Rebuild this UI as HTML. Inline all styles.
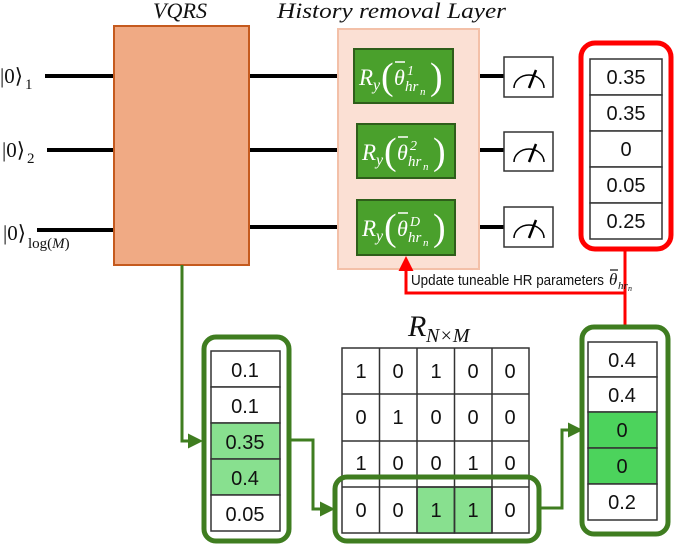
<!DOCTYPE html>
<html><head><meta charset="utf-8"><style>body{margin:0;background:#fff}svg{display:block}</style></head><body>
<svg width="685" height="547" viewBox="0 0 685 547" xmlns="http://www.w3.org/2000/svg" font-family="Liberation Sans, sans-serif">
<defs>
<marker id="ga" markerWidth="5" markerHeight="5" refX="4" refY="2.5" orient="auto" markerUnits="strokeWidth"><path d="M0,0 L5,2.5 L0,5 z" fill="#3f7d20"/></marker>
<marker id="ra" markerWidth="5" markerHeight="5" refX="4" refY="2.5" orient="auto" markerUnits="strokeWidth"><path d="M0,0 L5,2.5 L0,5 z" fill="#f00"/></marker>
</defs>
<g font-family="Liberation Serif, serif" font-style="italic" font-size="22" fill="#111">
<text x="153" y="18" textLength="54" lengthAdjust="spacingAndGlyphs">VQRS</text>
<text x="277" y="18" textLength="229" lengthAdjust="spacingAndGlyphs">History removal Layer</text>
</g>
<g stroke="#000" stroke-width="4">
<line x1="45" y1="76" x2="114" y2="76"/><line x1="47" y1="150" x2="114" y2="150"/><line x1="37" y1="230" x2="114" y2="230"/>
<line x1="249" y1="76" x2="355" y2="76"/><line x1="249" y1="150" x2="358" y2="150"/><line x1="249" y1="227" x2="358" y2="227"/>
<line x1="453" y1="76" x2="504" y2="76"/><line x1="455" y1="150" x2="504" y2="150"/><line x1="455" y1="227" x2="504" y2="227"/>
</g>
<g font-family="Liberation Serif, serif" font-size="21" fill="#111">
<text x="0" y="83">|0⟩</text><text x="25" y="89" font-size="15">1</text>
<text x="2" y="157">|0⟩</text><text x="27" y="163" font-size="15">2</text>
<text x="3" y="240">|0⟩</text><text x="28" y="248" font-size="15">log(<tspan font-style="italic">M</tspan>)</text>
</g>
<rect x="114" y="26" width="135" height="239" fill="#f0aa84" stroke="#c55a1e" stroke-width="2"/>
<rect x="338" y="29" width="141" height="240" fill="#fbe0d4" stroke="#f3c0a8" stroke-width="2"/>
<g fill="#4aa02c" stroke="#2e5e1a" stroke-width="2">
<rect x="354" y="49" width="99" height="54"/><rect x="357" y="124" width="98" height="54"/><rect x="357" y="200" width="98" height="55"/>
</g>
<g font-family="Liberation Serif, serif" font-style="italic" fill="#fff">
<g transform="translate(354,49)">
<text x="5" y="36" font-size="23">R</text><text x="19" y="41" font-size="16">y</text>
<text x="27" y="40" font-size="38" font-style="normal">(</text>
<text x="40" y="36" font-size="22">θ</text><line x1="41" y1="13" x2="51" y2="13" stroke="#fff" stroke-width="1.5"/>
<text x="53" y="26" font-size="14">1</text><text x="51" y="42" font-size="15">hr</text><text x="66" y="46" font-size="11">n</text>
<text x="76" y="40" font-size="38" font-style="normal">)</text>
</g>
<g transform="translate(357,124)">
<text x="5" y="36" font-size="23">R</text><text x="19" y="41" font-size="16">y</text>
<text x="27" y="40" font-size="38" font-style="normal">(</text>
<text x="40" y="36" font-size="22">θ</text><line x1="41" y1="13" x2="51" y2="13" stroke="#fff" stroke-width="1.5"/>
<text x="53" y="26" font-size="14">2</text><text x="51" y="42" font-size="15">hr</text><text x="66" y="46" font-size="11">n</text>
<text x="76" y="40" font-size="38" font-style="normal">)</text>
</g>
<g transform="translate(357,200)">
<text x="5" y="36" font-size="23">R</text><text x="19" y="41" font-size="16">y</text>
<text x="27" y="40" font-size="38" font-style="normal">(</text>
<text x="40" y="36" font-size="22">θ</text><line x1="41" y1="13" x2="51" y2="13" stroke="#fff" stroke-width="1.5"/>
<text x="53" y="26" font-size="14">D</text><text x="51" y="42" font-size="15">hr</text><text x="66" y="46" font-size="11">n</text>
<text x="76" y="40" font-size="38" font-style="normal">)</text>
</g>
</g>
<g fill="#fff" stroke="#333" stroke-width="1.5">
<rect x="504" y="57" width="49" height="40"/><rect x="504" y="132" width="49" height="39"/><rect x="504" y="207" width="49" height="40"/>
</g>
<g fill="none" stroke="#000" stroke-width="1.5">
<path d="M514,88 A15,13 0 0 1 544,88"/><line x1="529" y1="88" x2="536" y2="70" stroke-width="2.5"/>
<path d="M514,162 A15,13 0 0 1 544,162"/><line x1="529" y1="162" x2="536" y2="144" stroke-width="2.5"/>
<path d="M514,238 A15,13 0 0 1 544,238"/><line x1="529" y1="238" x2="536" y2="220" stroke-width="2.5"/>
</g>
<rect x="581" y="43" width="90" height="206" rx="14" fill="none" stroke="#f00" stroke-width="5"/>
<g fill="#fff" stroke="#333" stroke-width="1.5">
<rect x="590" y="59" width="72" height="36"/><rect x="590" y="95" width="72" height="36"/><rect x="590" y="131" width="72" height="36"/><rect x="590" y="167" width="72" height="36"/><rect x="590" y="203" width="72" height="36"/>
</g>
<g font-size="20" text-anchor="middle" fill="#111">
<text x="626" y="84">0.35</text><text x="626" y="120">0.35</text><text x="626" y="156">0</text><text x="626" y="192">0.05</text><text x="626" y="228">0.25</text>
</g>
<polyline points="625,250 625,293 406,293 406,259" fill="none" stroke="#f00" stroke-width="3" marker-end="url(#ra)"/>
<text x="411" y="285" font-size="15" fill="#111" textLength="193" lengthAdjust="spacingAndGlyphs">Update tuneable HR parameters</text>
<g font-family="Liberation Serif, serif" font-style="italic" fill="#111">
<text x="609" y="285" font-size="17">θ</text><line x1="610" y1="270" x2="618" y2="270" stroke="#111" stroke-width="1.2"/>
<text x="618" y="289" font-size="11">hr</text><text x="628" y="291" font-size="8">n</text>
</g>
<line x1="625" y1="293" x2="625" y2="327" stroke="#f00" stroke-width="3"/>
<polyline points="182,265 182,441 200,441" fill="none" stroke="#3f7d20" stroke-width="3" marker-end="url(#ga)"/>
<rect x="204" y="337" width="85" height="204" rx="12" fill="none" stroke="#3f7d20" stroke-width="5"/>
<g stroke="#333" stroke-width="1.5">
<rect x="211" y="351" width="69" height="36" fill="#fff"/><rect x="211" y="387" width="69" height="36" fill="#fff"/><rect x="211" y="423" width="69" height="36" fill="#88e08f"/><rect x="211" y="459" width="69" height="36" fill="#88e08f"/><rect x="211" y="495" width="69" height="36" fill="#fff"/>
</g>
<g font-size="20" text-anchor="middle" fill="#111">
<text x="245" y="377">0.1</text><text x="245" y="413">0.1</text><text x="245" y="449">0.35</text><text x="245" y="485">0.4</text><text x="245" y="521">0.05</text>
</g>
<polyline points="290,440 313,440 313,509 332,509" fill="none" stroke="#3f7d20" stroke-width="3" marker-end="url(#ga)"/>
<g font-family="Liberation Serif, serif" font-style="italic" fill="#111">
<text x="408" y="336" font-size="30">R</text><text x="426" y="342" font-size="20">N×M</text>
</g>
<g stroke="#333" stroke-width="1.5" fill="#fff">
<rect x="342" y="348" width="187" height="185"/>
<rect x="417" y="487" width="37.5" height="46" fill="#88e08f"/><rect x="454.5" y="487" width="37.5" height="46" fill="#88e08f"/>
<line x1="379.5" y1="348" x2="379.5" y2="533"/><line x1="417" y1="348" x2="417" y2="533"/><line x1="454.5" y1="348" x2="454.5" y2="533"/><line x1="492" y1="348" x2="492" y2="533"/>
<line x1="342" y1="394" x2="529" y2="394"/><line x1="342" y1="441" x2="529" y2="441"/><line x1="342" y1="487" x2="529" y2="487"/>
</g>
<g font-size="20" text-anchor="middle" fill="#111">
<text x="361" y="378">1</text><text x="398" y="378">0</text><text x="436" y="378">1</text><text x="473" y="378">0</text><text x="510" y="378">0</text>
<text x="361" y="424">0</text><text x="398" y="424">1</text><text x="436" y="424">0</text><text x="473" y="424">0</text><text x="510" y="424">0</text>
<text x="361" y="470">1</text><text x="398" y="470">0</text><text x="436" y="470">0</text><text x="473" y="470">1</text><text x="510" y="470">0</text>
<text x="361" y="517">0</text><text x="398" y="517">0</text><text x="436" y="517">1</text><text x="473" y="517">1</text><text x="510" y="517">0</text>
</g>
<rect x="335" y="477" width="204" height="64" rx="12" fill="none" stroke="#3f7d20" stroke-width="5"/>
<polyline points="540,508 562,508 562,430 580,430" fill="none" stroke="#3f7d20" stroke-width="3" marker-end="url(#ga)"/>
<rect x="582" y="327" width="86" height="207" rx="12" fill="none" stroke="#3f7d20" stroke-width="5"/>
<g stroke="#333" stroke-width="1.5">
<rect x="588" y="342" width="69" height="35" fill="#fff"/><rect x="588" y="377" width="69" height="35" fill="#fff"/><rect x="588" y="412" width="69" height="36" fill="#4cd35c"/><rect x="588" y="448" width="69" height="36" fill="#4cd35c"/><rect x="588" y="484" width="69" height="36" fill="#fff"/>
</g>
<g font-size="20" text-anchor="middle" fill="#111">
<text x="622" y="367">0.4</text><text x="622" y="402">0.4</text><text x="622" y="437">0</text><text x="622" y="473">0</text><text x="622" y="509">0.2</text>
</g>
</svg>
</body></html>
